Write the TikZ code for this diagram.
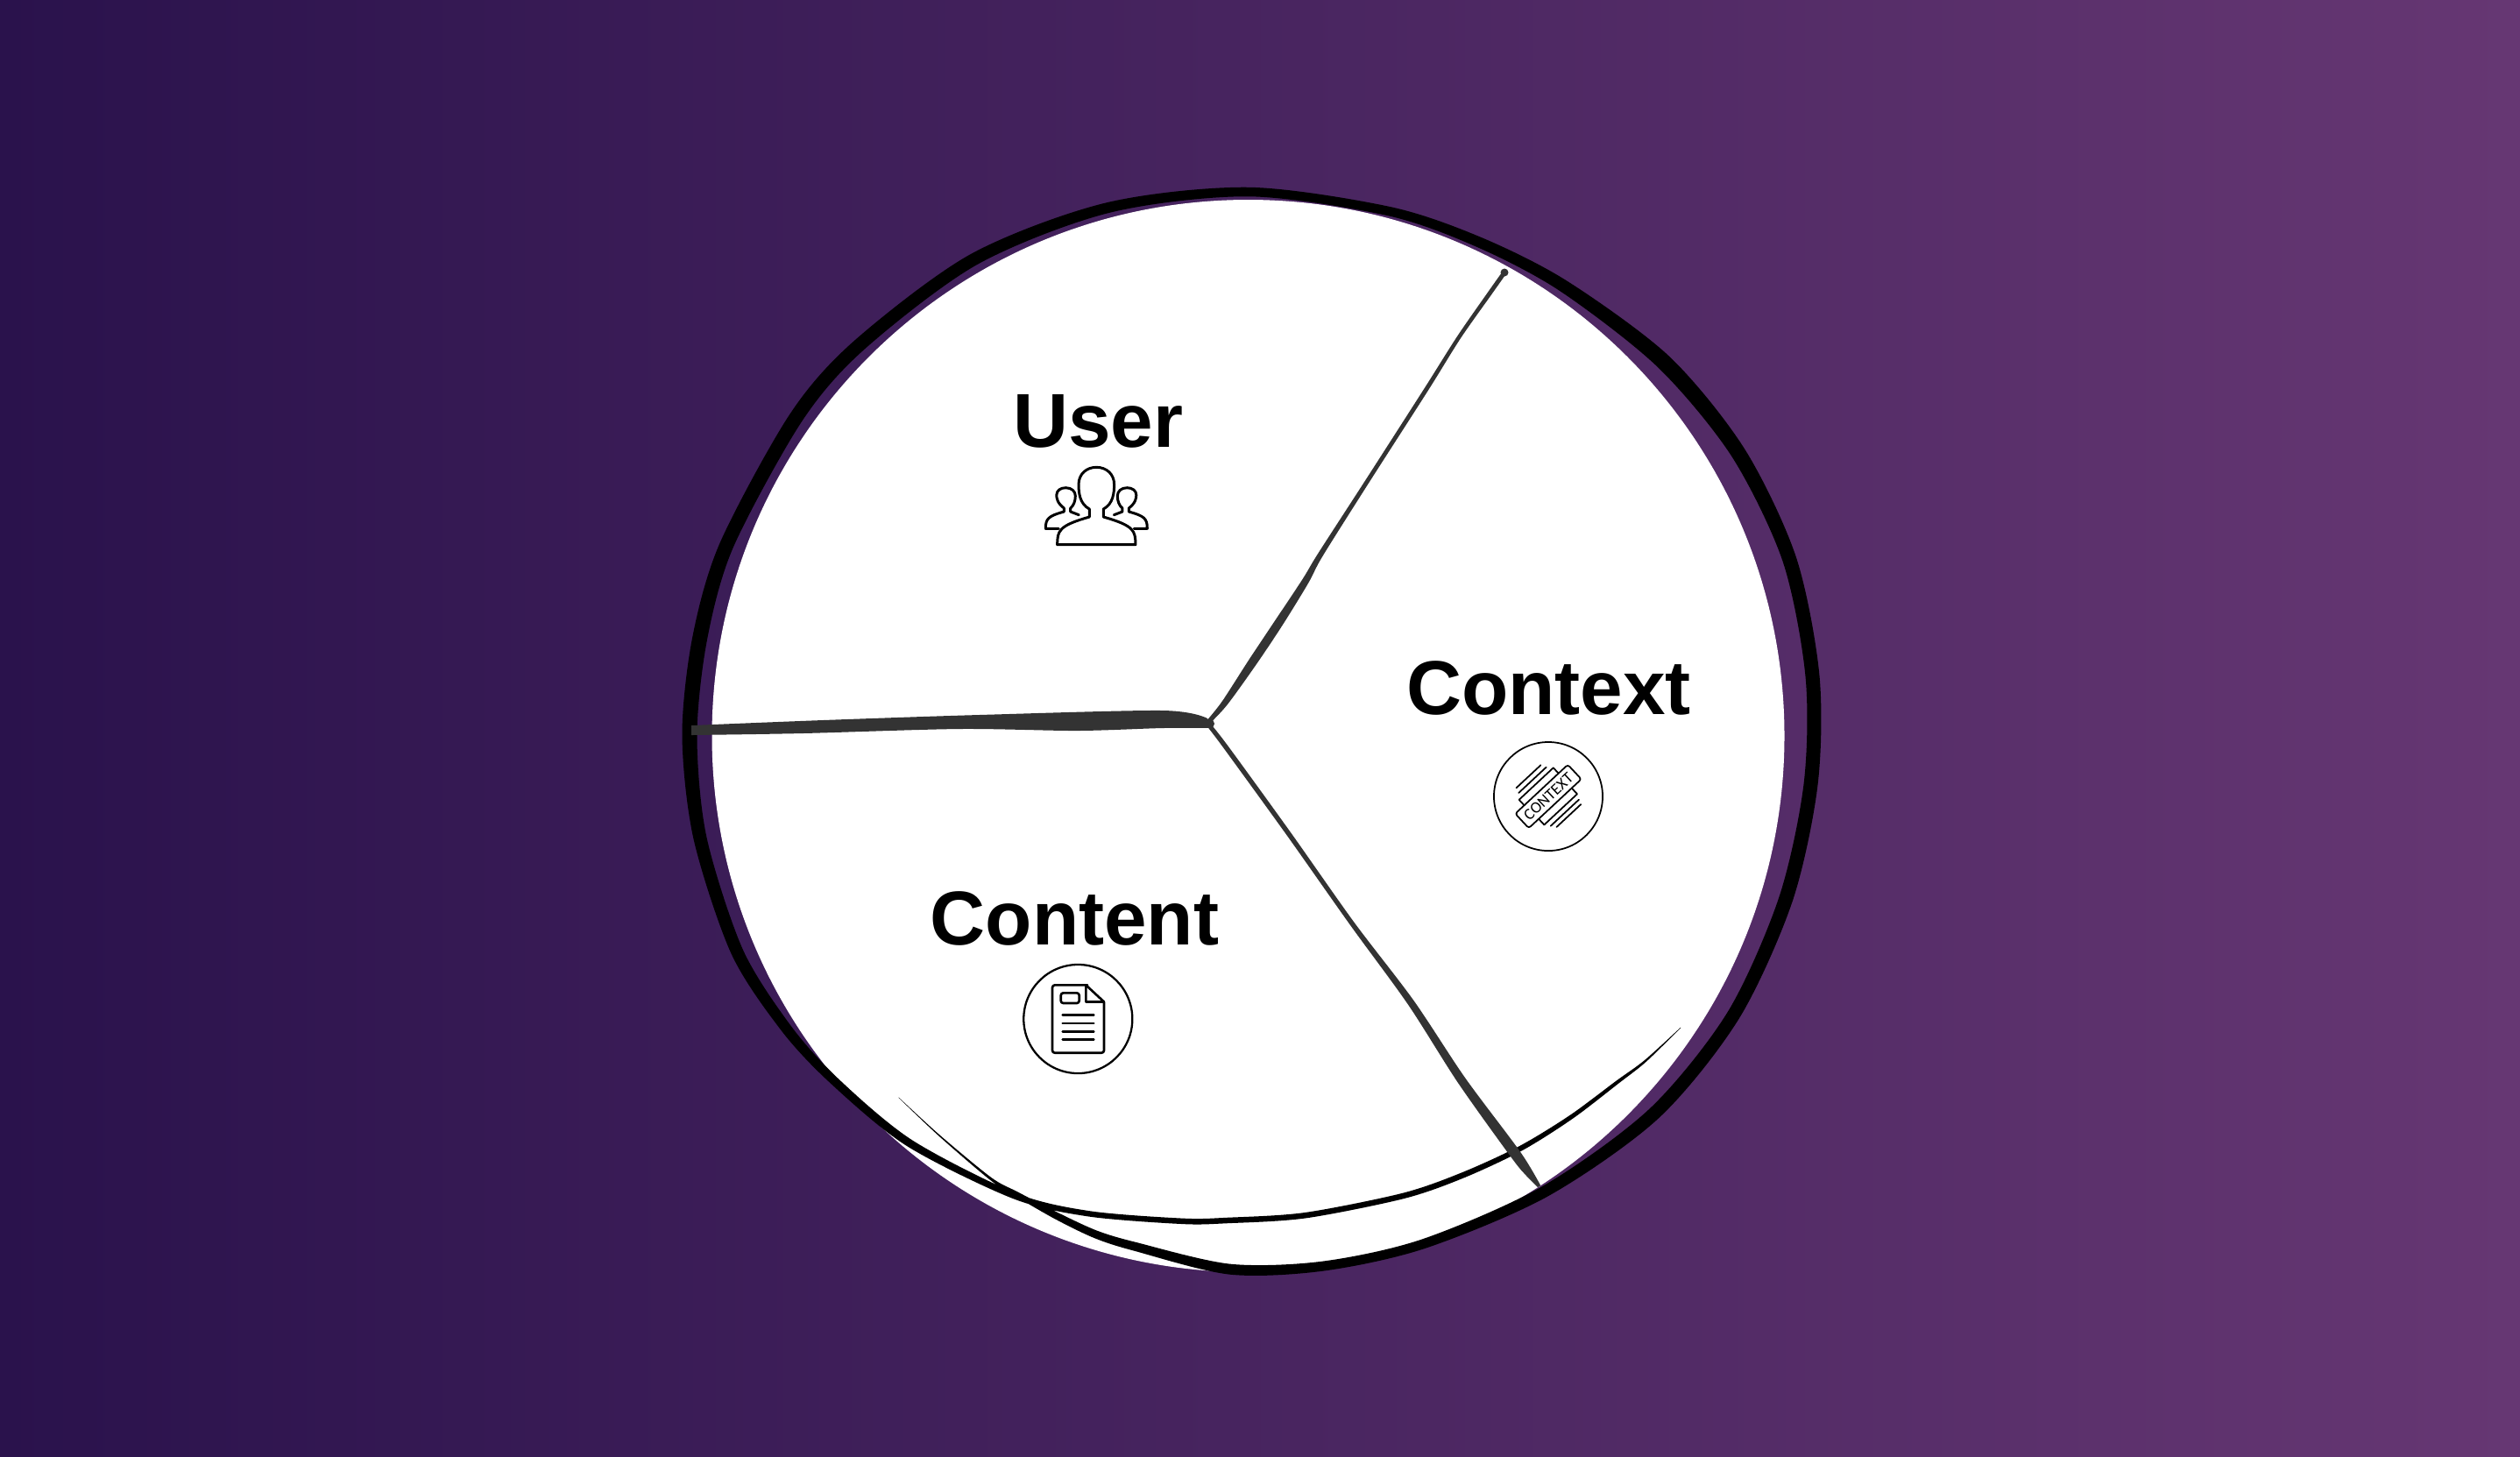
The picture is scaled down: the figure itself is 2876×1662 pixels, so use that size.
\documentclass[tikz,border=0pt]{standalone}
\usepackage{fontspec}
\setmainfont{Liberation Sans}
\newfontfamily\stampfont{Carlito}
\definecolor{bgleft}{RGB}{42,18,76}
\definecolor{bgright}{RGB}{102,55,115}
\definecolor{spokegray}{RGB}{51,51,51}
\tikzset{
  heading/.style={anchor=base,inner sep=0pt,font=\fontsize{24.8}{30}\bfseries\selectfont},
  iconring/.style={circle,draw=black,fill=white,inner sep=0pt,minimum size=1.24cm},
  thinline/.style={black,line width=.5pt,line join=round,line cap=round},
  iconline/.style={black,line width=.75pt,line join=round,line cap=round},
}
\begin{document}
\begin{tikzpicture}[x=0.01cm,y=-0.01cm]
    \useasboundingbox (0,0) rectangle (2876,1662);
    \shade[left color=bgleft,right color=bgright] (0,0) rectangle (2876,1662);
    \fill[white] (1424.5,840) circle (612);

    % ring as one tapered stroke, angle/radius/width round the disc
    \gdef\ringouter{}\gdef\ringinner{}
    \foreach \a/\r/\w in {34.1/595.5/.4,39.4/586/2.5,43.25/578/4,49.8/570.6/5,56.7/564.7/6,64.2/558.6/6.5,71.5/554.7/6.5,83.3/552/6.5,92.6/554.6/6.5,97.8/560/6.5,108.5/576/6.5,117/590/7,129.8/605.6/9,140.2/616/10,147.7/625/12,157.1/634/14,169.4/637/15,180/638/17,190/636/17,200/634/16,215/631/16,225/629/15,240/627/14,255/623/12,270/620/10.5,285/619/10.5,295/621/12,305/626/14,318/637/18,330/645/17,342/649/16,354/647/16,365/644/16,377/641/16,390/639/15,403/633/15,417/621/13,431/614/11,442/612/11,452/610/12,462.5/598/10,467/596/9,471.7/591/8,476.8/587/5.5,480.2/585.7/3,487.7/577.5/1.5,494/575/.3} {
        \pgfmathsetmacro\xa{1425+cos(\a)*(\r+\w/2)}
        \pgfmathsetmacro\ya{839+sin(\a)*(\r+\w/2)}
        \pgfmathsetmacro\xb{1425+cos(\a)*(\r-\w/2)}
        \pgfmathsetmacro\yb{839+sin(\a)*(\r-\w/2)}
        \xdef\ringouter{\ringouter (\xa,\ya)}
        \xdef\ringinner{(\xb,\yb) \ringinner}
    }
    \edef\ringpath{\noexpand\fill[black] plot[smooth] coordinates {\ringouter} -- plot[smooth] coordinates {\ringinner} -- cycle;}
    \ringpath

    % three spokes
    \coordinate (hub) at (1381,826);
    \coordinate (tip) at (1717,311);
    \fill[spokegray] plot[smooth] coordinates {(789,828) (939,822) (1117,816) (1327,811) (1378,820)} -- plot[smooth] coordinates {(1384,831) (1327,831) (1229,834) (1095,832) (916,837) (789,839)} -- cycle;
    \fill[spokegray] plot[smooth] coordinates {(1382,824.4) (1400.9,804) (1434.1,757.8) (1464.1,712.8) (1493.3,665.2) (1509.5,634.7) (1562,551.4) (1630,445.4) (1666.8,386.3) (1702,336.4) (1719,312.4)} -- plot[smooth] coordinates {(1715,309.6) (1698,333.6) (1663.2,383.7) (1626,442.6) (1558,548.6) (1504.5,631.3) (1486.7,660.8) (1455.9,707.2) (1425.9,752.2) (1395.1,800) (1378,821.6)} -- cycle;
    \fill[spokegray] plot[smooth] coordinates {(1382,826.6) (1402.2,852.4) (1473.2,950.4) (1545.2,1052.4) (1613.2,1141.7) (1672,1230.1) (1734.9,1314.5) (1758.2,1353.1)} -- plot[smooth] coordinates {(1755,1355) (1742,1342) (1725.1,1321.5) (1664,1235.9) (1606.8,1146.3) (1540.8,1055.6) (1468.8,953.6) (1397.8,855.6) (1378,829.4)} -- cycle;
    \fill[spokegray] (hub) circle (5);
    \fill[spokegray] (tip) circle (4.5);

    \node[heading] (user) at (1253,510) {User};
    \node[heading] (context) at (1767.5,815) {Context};
    \node[heading] (content) at (1226.5,1078) {Content};

    % user icon
    \foreach \s in {1,-1} {
        \begin{scope}[shift={(1251.3,0)},xscale=\s]
            \draw[iconline,line width=.85pt] (-43,603.3) -- (-58,603.3) .. controls (-58,592) and (-55,589) .. (-37,584) -- (-37,580) .. controls (-45,574) and (-45.5,568) .. (-45.5,565) .. controls (-45.5,560) and (-41,556.7) .. (-35,556.7) .. controls (-28,556.7) and (-24,561) .. (-24,566) .. controls (-24,572) and (-26,577) .. (-29.6,580) -- (-29.6,584) -- (-20,587.7);
        \end{scope}
    }
    \draw[iconline,line width=.85pt] (1206.7,621.7) .. controls (1206.7,606) and (1208,600) .. (1243.3,590) -- (1243.3,581) .. controls (1232,575) and (1231,562) .. (1231,553) .. controls (1231,541) and (1240,533.3) .. (1251.3,533.3) .. controls (1262.6,533.3) and (1271.6,541) .. (1271.6,553) .. controls (1271.6,562) and (1270.6,575) .. (1259.3,581) -- (1259.3,590) .. controls (1294.6,600) and (1295.9,606) .. (1295.9,621.7) -- cycle;

    % context icon
    \node[iconring,line width=.5pt] (contexticon) at (1767,909) {};
    \begin{scope}[shift={(contexticon.center)},rotate=43]
        \draw[thinline,rounded corners=.8pt] (-41,-11.3) rectangle (41,11.3);
        \draw[thinline] (-27,-11.3) -- (-27,-20) -- (26.5,-20) -- (26.5,-11.3);
        \draw[thinline] (-25.5,11.3) -- (-25.5,20.5) -- (26,20.5) -- (26,11.3);
        \foreach \v/\a/\b in {-32/-20/18,-26/-22/21,26.5/-21/23,32/-17/21} {
            \draw[thinline] (\a,\v) -- (\b,\v);
        }
        \node[rotate=43,inner sep=0pt,font=\stampfont\fontsize{5.2}{6}\selectfont] (stamp) at (0,0) {CONTEXT};
    \end{scope}

    % content icon
    \node[iconring,line width=.65pt] (contenticon) at (1230.3,1163) {};
    \draw[iconline,rounded corners=.8pt] (1241,1124.3) -- (1201,1124.3) -- (1201,1201.7) -- (1260,1201.7) -- (1260,1144);
    \draw[iconline] (1239.3,1124.3) -- (1239.3,1143.5) -- (1260,1143.5) -- cycle;
    \draw[iconline,rounded corners=.8pt] (1210.7,1133.3) rectangle (1231.7,1145);
    \foreach \y in {1158.7,1168,1177.3,1186.7} {
        \draw[iconline] (1212.7,\y) -- (1248.3,\y);
    }
\end{tikzpicture}
\end{document}
